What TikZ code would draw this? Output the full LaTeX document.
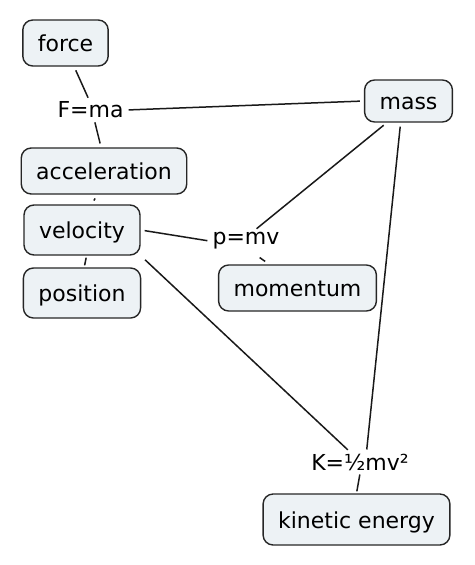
\documentclass[tikz,border=0pt]{standalone}
\usepackage{fontspec}
\setmainfont{DejaVu Sans}
\begin{document}
\begin{tikzpicture}[x=1pt,y=-1pt,
  concept/.style={draw=black!85, line width=1.4pt, fill=boxfill, rounded corners=10pt,
    inner xsep=15pt, inner ysep=0pt, minimum height=46pt, text height=17pt, text depth=0pt,
    font=\fontsize{22}{26}\selectfont},
  linklabel/.style={inner sep=3pt, font=\fontsize{22}{26}\selectfont},
  conn/.style={line width=1.5pt, black!90, shorten <=4pt, shorten >=4pt}]
\definecolor{boxfill}{HTML}{EDF2F5}
\useasboundingbox (0,0) rectangle (474,565);
\node[concept] (force) at (65.5,43) {force};
\node[linklabel] (fma) at (90.5,110) {F=ma};
\node[concept] (acc) at (104,171) {acceleration};
\node[concept, minimum height=50pt] (vel) at (82,230) {velocity};
\node[concept, minimum height=50pt] (pos) at (82,293) {position};
\node[concept, minimum height=42pt] (mass) at (408.5,101) {mass};
\node[linklabel] (pmv) at (246,241) {p=mv};
\node[concept] (mom) at (297.5,288) {momentum};
\node[linklabel] (kin) at (360,462) {K=½mv²};
\node[concept, minimum height=51pt] (ke) at (356.5,519.5) {kinetic energy};

\draw[conn, shorten >=1pt] (force.-70) -- (fma.100);
\draw[conn, shorten <=1pt] (fma.-70) -- (acc.97);
\draw[conn, shorten <=2pt] (fma.east) -- (mass.west);
\draw[conn, shorten <=4.5pt, shorten >=4.5pt] (acc.255) -- (vel.70);
\draw[conn, shorten <=2pt, shorten >=2pt] (vel.-80) -- (pos.85);
\draw[conn, shorten >=2pt] (vel.east) -- (pmv.west);
\draw[conn, shorten <=1pt] (pmv.50) -- (mass.225);
\draw[conn, shorten <=8.5pt, shorten >=5pt] (pmv.-60) -- (mom.140);
\draw[conn, shorten <=6pt, shorten >=1pt] (vel.south east) -- (kin.135);
\draw[conn, shorten >=1pt] (mass.250) -- (kin.60);
\draw[conn, shorten <=1pt, shorten >=2pt] (kin.south) -- (ke.north);
\end{tikzpicture}
\end{document}
